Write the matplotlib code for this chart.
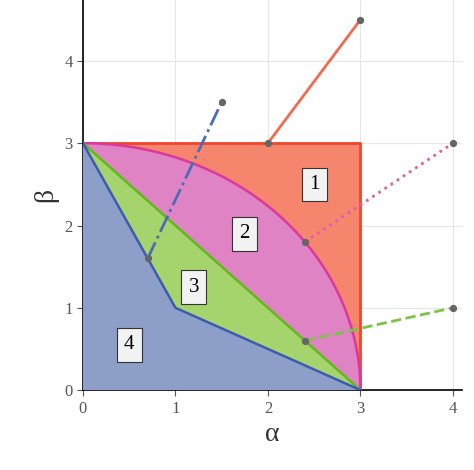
import numpy as np
import matplotlib.pyplot as plt

plt.rcParams['font.family'] = ['Liberation Serif', 'DejaVu Serif']

square = [(0, 0), (3, 0), (3, 3), (0, 3)]
kink = [(0, 3), (1, 1), (3, 0)]
radius = 3
seg_starts = [(2, 3), (2.4, 1.8), (2.4, 0.6), (0.7, 1.6)]
seg_ends = [(3, 4.5), (4, 3), (4, 1), (1.5, 3.5)]
seg_colors = ['#f26a4f', '#e05cae', '#7cc448', '#4a6cb8']
seg_styles = ['-', ':', '--', '-.']
labels = ['1', '2', '3', '4']
label_pos = [(2.5, 2.5), (1.75, 1.9), (1.2, 1.25), (0.5, 0.55)]

fig = plt.figure(figsize=(4.74, 4.70), dpi=100)
ax = fig.add_axes([0.175, 0.17, 0.80, 0.83])

sq = np.array(square)
ax.fill(sq[:, 0], sq[:, 1], color='#f6856e', zorder=1)
ax.plot(sq[1:, 0], sq[1:, 1], color='#f0462a', lw=2, zorder=2)

t = np.linspace(0, np.pi / 2, 100)
cx, cy = radius * np.cos(t), radius * np.sin(t)
ax.fill(np.append(cx, 0), np.append(cy, 0), color='#e083c4', zorder=3)
ax.plot(cx, cy, color='#d9399c', lw=1.8, zorder=4)

k = np.array(kink)
ax.fill([0, 3, 0], [3, 0, 0], color='#a6d46c', zorder=5)
ax.plot([0, 3], [3, 0], color='#62b81f', lw=1.8, zorder=6)
ax.fill(np.append(k[:, 0], 0), np.append(k[:, 1], 0), color='#8d9ec9', zorder=7)
ax.plot(k[:, 0], k[:, 1], color='#3b5cb0', lw=1.8, zorder=8)

for s, e, c, ls in zip(seg_starts, seg_ends, seg_colors, seg_styles):
    ax.plot([s[0], e[0]], [s[1], e[1]], color=c, ls=ls, lw=2, zorder=9)
    ax.scatter([s[0], e[0]], [s[1], e[1]], color='#666666', s=18, zorder=10)

for lab, (x, y) in zip(labels, label_pos):
    ax.text(x, y, lab, fontsize=15, ha='center', va='center', zorder=11,
            bbox=dict(boxstyle='square,pad=0.35', fc='#f2f2f2', ec='#333333', lw=0.8))

ax.set_xlim(0, 4.1)
ax.set_ylim(0, 4.74)
ax.set_xticks([0, 1, 2, 3, 4])
ax.set_yticks([0, 1, 2, 3, 4])
ax.grid(color='#e6e6e6', lw=0.8)
ax.set_axisbelow(True)
for side in ['top', 'right']:
    ax.spines[side].set_visible(False)
ax.spines['left'].set_linewidth(1.2)
ax.spines['bottom'].set_linewidth(1.2)
ax.tick_params(colors='#555555', labelsize=12, length=4)
ax.set_xlabel('α', fontsize=20, color='#333333')
ax.set_ylabel('β', fontsize=20, color='#333333')

fig.savefig('out.png', dpi=100)
